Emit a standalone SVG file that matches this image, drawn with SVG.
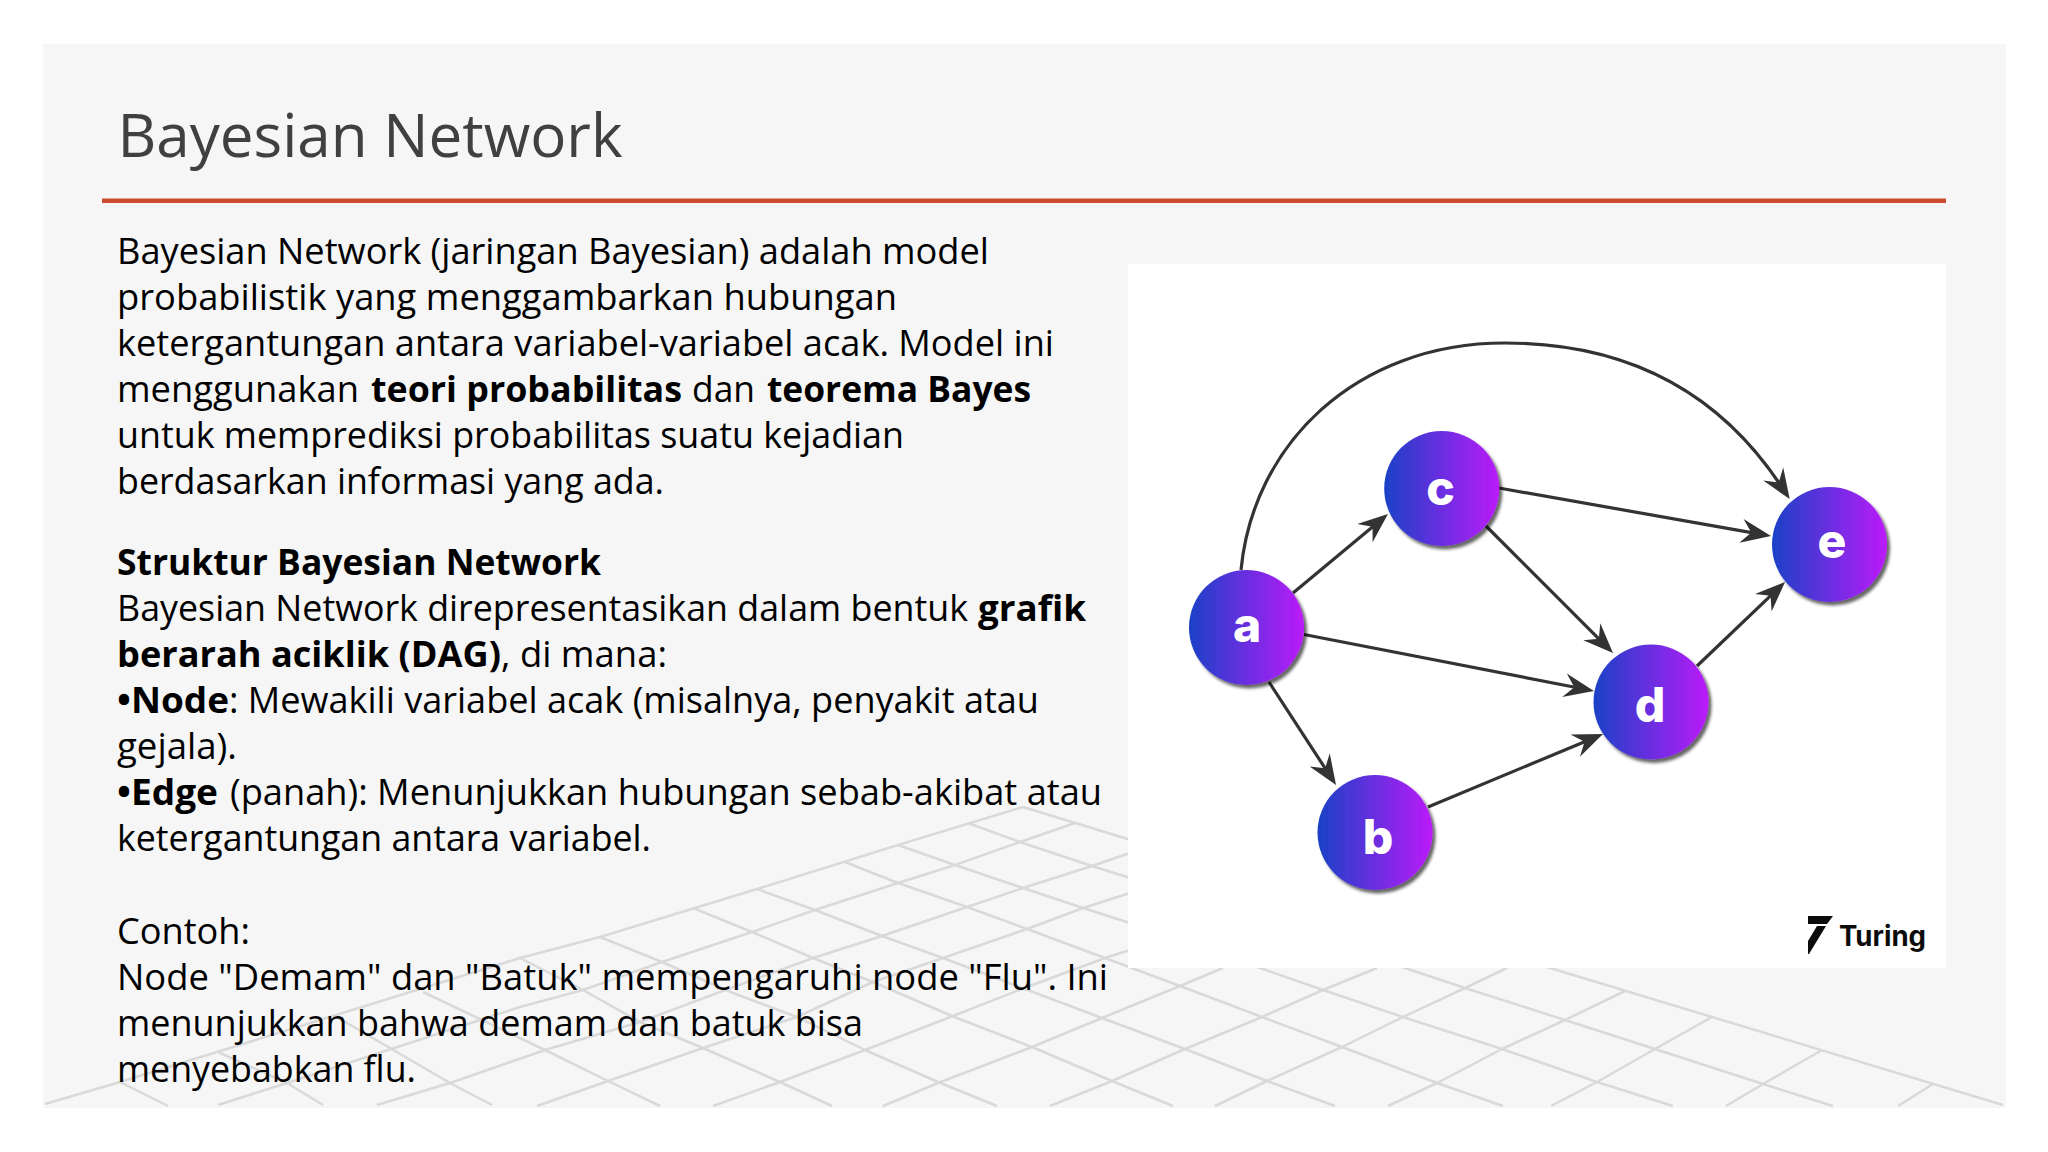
<svg xmlns="http://www.w3.org/2000/svg" width="2048" height="1152" viewBox="0 0 2048 1152">
<defs>
<linearGradient id="nodeFill" x1="0" y1="0" x2="1" y2="0"><stop offset="0" stop-color="#1a41c6"/><stop offset="1" stop-color="#bb1bfa"/></linearGradient>
<filter id="nodeShadow" x="-20%" y="-20%" width="150%" height="150%"><feDropShadow dx="3" dy="3.500" stdDeviation="1.800" flood-color="#000" flood-opacity="0.6"/></filter>
<marker id="arrow" markerUnits="userSpaceOnUse" markerWidth="32" markerHeight="26" refX="16" refY="12.500" orient="auto"><path d="M0,0.500 L30,12.500 L0,24.500 L10,12.500 Z" fill="#333"/></marker>
</defs>
<style>
.grid{fill:none;stroke:#d9d9d9;stroke-width:2.500;stroke-linejoin:round}
.body{font-family:"Open Sans","Noto Sans",sans-serif;font-size:36px;fill:#000}
.b{font-weight:700}
.edge{fill:none;stroke:#333;stroke-width:3.200;marker-end:url(#arrow)}
.node circle{fill:url(#nodeFill);filter:url(#nodeShadow)}
.node text{font-family:Inter,"Open Sans",sans-serif;font-weight:800;font-size:48px;fill:#fff;text-anchor:middle}
</style>
<rect width="2048" height="1152" fill="#fff"/>
<rect x="43" y="44" width="1963" height="1064" fill="#f6f6f6"/>
<g id="floor-grid" class="grid">
<polyline points="45,1104 120,1082 520,958 600,937 757,889 898,845 1023,807"/>
<polyline points="218,1105 287,1083 520,1007 583,990 662,962 752,932 815,910 898,883 955,865 1020,842 1075,823"/>
<polyline points="377,1105 450,1083 545,1050 640,1022 720,992 813,958 882,936 967,907 1023,888 1092,866 1130,853"/>
<polyline points="537,1106 608,1081 703,1048 797,1017 873,982 943,958 1027,929 1083,908 1130,893"/>
<polyline points="713,1106 780,1082 865,1050 953,1016 1027,987 1105,958 1130,950"/>
<polyline points="883,1106 938,1083 1032,1047 1102,1018 1180,986 1223,968"/>
<polyline points="1050,1106 1112,1081 1185,1049 1262,1017 1323,990 1377,968"/>
<polyline points="1215,1106 1267,1081 1342,1047 1403,1017 1465,988 1507,968"/>
<polyline points="1388,1106 1437,1083 1502,1049 1565,1020 1625,991"/>
<polyline points="1551,1106 1597,1082 1655,1049 1712,1017"/>
<polyline points="1726,1106 1763,1084 1822,1050"/>
<polyline points="1898,1106 1933,1084"/>
<polyline points="1023,807 1550,968 2003,1105"/>
<polyline points="968,823 1020,842 1092,866 1130,878 1405,968 1465,988 1565,1020 1655,1049 1763,1084 1833,1106"/>
<polyline points="898,845 955,865 1023,888 1083,908 1130,923 1260,968 1323,990 1403,1017 1502,1049 1597,1082 1673,1106"/>
<polyline points="845,862 898,883 967,907 1027,929 1105,958 1180,986 1262,1017 1342,1047 1437,1083 1503,1106"/>
<polyline points="757,889 815,910 882,936 943,958 1102,1018 1185,1049 1267,1081 1335,1106"/>
<polyline points="693,908 752,932 813,958 873,982 952,1016 1032,1047 1112,1081 1173,1106"/>
<polyline points="600,937 662,962 733,993 797,1017 865,1050 938,1082 997,1106"/>
<polyline points="520,958 583,990 640,1022 703,1048 780,1082 832,1106"/>
<polyline points="423,992 545,1050 608,1081 660,1106"/>
<polyline points="335,1016 450,1083 492,1105"/>
<polyline points="218,1052 287,1083 323,1105"/>
<polyline points="120,1082 168,1106"/>
</g>
<rect x="102" y="198.500" width="1844" height="4.500" fill="#ce4a30"/>
<text x="117.500" y="157" font-family="Open Sans, Noto Sans, sans-serif" font-size="60" fill="#404040" textLength="505" lengthAdjust="spacingAndGlyphs">Bayesian Network</text>
<g id="body-text" class="body">
<text x="117" y="264" textLength="872" lengthAdjust="spacingAndGlyphs">Bayesian Network (jaringan Bayesian) adalah model</text>
<text x="117" y="310" textLength="780" lengthAdjust="spacingAndGlyphs">probabilistik yang menggambarkan hubungan</text>
<text x="117" y="356" textLength="937" lengthAdjust="spacingAndGlyphs">ketergantungan antara variabel-variabel acak. Model ini</text>
<text y="402"><tspan x="117" textLength="242" lengthAdjust="spacingAndGlyphs">menggunakan</tspan><tspan class="b" x="371" textLength="311" lengthAdjust="spacingAndGlyphs">teori probabilitas</tspan><tspan x="692" textLength="63" lengthAdjust="spacingAndGlyphs">dan</tspan><tspan class="b" x="767" textLength="264" lengthAdjust="spacingAndGlyphs">teorema Bayes</tspan></text>
<text x="117" y="448" textLength="787" lengthAdjust="spacingAndGlyphs">untuk memprediksi probabilitas suatu kejadian</text>
<text x="117" y="494" textLength="547" lengthAdjust="spacingAndGlyphs">berdasarkan informasi yang ada.</text>
<text class="b" x="117" y="575" textLength="484" lengthAdjust="spacingAndGlyphs">Struktur Bayesian Network</text>
<text y="621"><tspan x="117" textLength="851" lengthAdjust="spacingAndGlyphs">Bayesian Network direpresentasikan dalam bentuk</tspan><tspan class="b" x="978" textLength="108" lengthAdjust="spacingAndGlyphs">grafik</tspan></text>
<text y="667"><tspan class="b" x="117" textLength="384" lengthAdjust="spacingAndGlyphs">berarah aciklik (DAG)</tspan><tspan x="501" textLength="166" lengthAdjust="spacingAndGlyphs">, di mana:</tspan></text>
<text y="713"><tspan class="b" x="117" textLength="112" lengthAdjust="spacingAndGlyphs">•Node</tspan><tspan x="229" textLength="810" lengthAdjust="spacingAndGlyphs">: Mewakili variabel acak (misalnya, penyakit atau</tspan></text>
<text x="117" y="759" textLength="120" lengthAdjust="spacingAndGlyphs">gejala).</text>
<text y="805"><tspan class="b" x="117" textLength="101" lengthAdjust="spacingAndGlyphs">•Edge</tspan><tspan x="230" textLength="872" lengthAdjust="spacingAndGlyphs">(panah): Menunjukkan hubungan sebab-akibat atau</tspan></text>
<text x="117" y="851" textLength="534" lengthAdjust="spacingAndGlyphs">ketergantungan antara variabel.</text>
<text x="117" y="944" textLength="133" lengthAdjust="spacingAndGlyphs">Contoh:</text>
<text x="117" y="990" textLength="991" lengthAdjust="spacingAndGlyphs">Node "Demam" dan "Batuk" mempengaruhi node "Flu". Ini</text>
<text x="117" y="1036" textLength="746" lengthAdjust="spacingAndGlyphs">menunjukkan bahwa demam dan batuk bisa</text>
<text x="117" y="1082" textLength="299" lengthAdjust="spacingAndGlyphs">menyebabkan flu.</text>
</g>
<rect x="1128" y="264" width="818" height="704" fill="#fff"/>
<g id="connectors">
<path class="edge" d="M1241,570 C1253,445 1355,343 1505,343 C1625,343 1718,390 1782,487.400"/>
<path class="edge" d="M1293,593 L1377.200,522.900"/>
<path class="edge" d="M1499,488 L1757.200,533.600"/>
<path class="edge" d="M1486,526 L1603.100,643.100"/>
<path class="edge" d="M1304,634.500 L1580.200,688.300"/>
<path class="edge" d="M1269,682 L1328.400,773.300"/>
<path class="edge" d="M1428,807 L1590.100,739.400"/>
<path class="edge" d="M1697,666 L1774.900,591.700"/>
</g>
<g id="node-a" class="node"><circle cx="1246.500" cy="627.500" r="57.500"/><text x="1247" y="642">a</text></g>
<g id="node-b" class="node"><circle cx="1375" cy="832.500" r="57.500"/><text x="1378" y="854">b</text></g>
<g id="node-c" class="node"><circle cx="1441.700" cy="488.500" r="57.500"/><text x="1440.500" y="504.500">c</text></g>
<g id="node-d" class="node"><circle cx="1651" cy="702" r="57.500"/><text x="1650" y="722">d</text></g>
<g id="node-e" class="node"><circle cx="1829.500" cy="544.500" r="57.500"/><text x="1832" y="558">e</text></g>
<g id="turing-logo">
<polygon points="1808,916 1833,916 1827,924 1808,924" fill="#0c0c0c"/>
<polygon points="1817,926 1826,926 1809,954 1808,954 1808,941" fill="#0c0c0c"/>
<text x="1839" y="946" font-family="Inter, Open Sans, sans-serif" font-weight="700" font-size="28" fill="#0c0c0c" textLength="87" lengthAdjust="spacingAndGlyphs">Turing</text>
</g>
</svg>
